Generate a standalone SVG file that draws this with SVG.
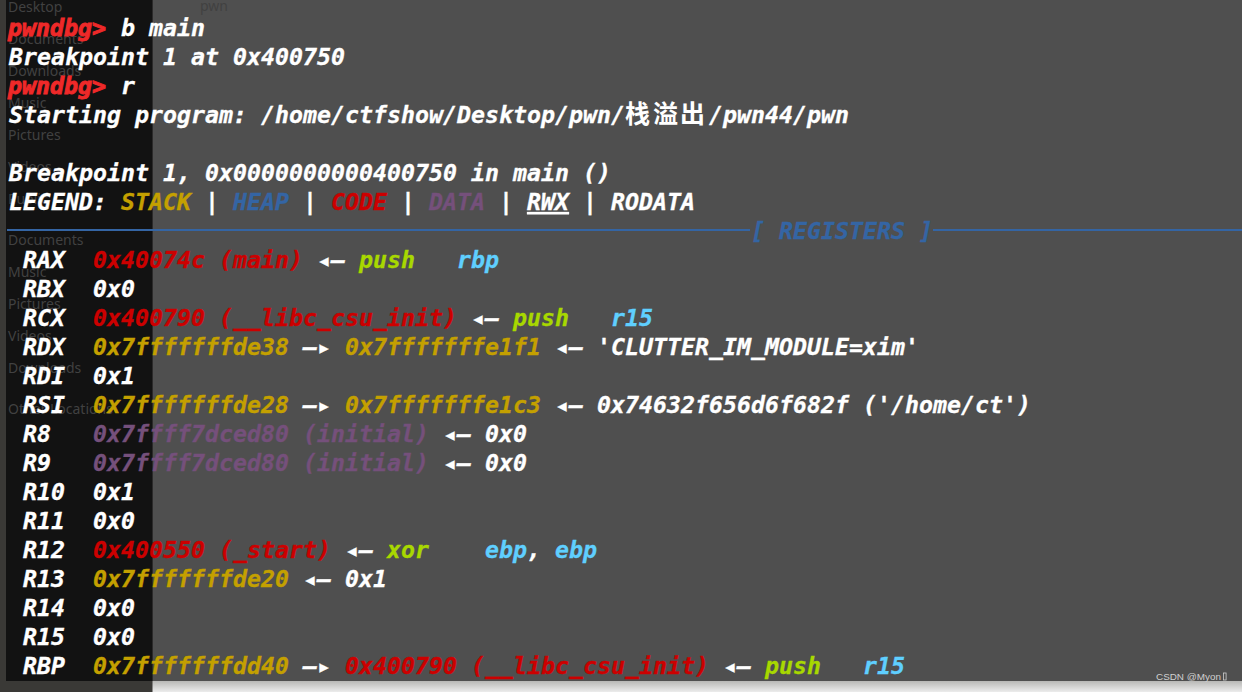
<svg xmlns="http://www.w3.org/2000/svg" width="1242" height="692" viewBox="0 0 1242 692">
<defs><linearGradient id="fade" x1="0" y1="0" x2="0" y2="1"><stop offset="0" stop-color="#b8b8b6"/><stop offset="1" stop-color="#ececec"/></linearGradient></defs>
<style>
text{white-space:pre}
.t{font-family:"DejaVu Sans Mono","Liberation Mono",monospace;font-size:23.25px;font-weight:700;font-style:italic;fill:#fff;stroke:#fff;stroke-width:.3px}
.n{font-family:"Noto Sans","Liberation Sans",sans-serif;font-size:14px;fill:#414141}
.t.p{fill:#ef2929;stroke:#ef2929;stroke-width:.9px}
.t.y{fill:#c4a000;stroke:#c4a000}.t.b{fill:#3465a4;stroke:#3465a4}.t.r{fill:#cc0000;stroke:#cc0000}.t.u{fill:#75507b;stroke:#75507b}.t.g{fill:#a8d800;stroke:#a8d800}.t.c{fill:#5fcfff;stroke:#5fcfff}
.k{font-family:"Noto Sans CJK SC",sans-serif;font-size:25px;font-weight:700;fill:#fff}
.w{font-family:"Liberation Sans",sans-serif;font-size:9.9px;fill:#cfcfcf}
</style>
<rect width="1242" height="692" fill="#4f4f4f"/>
<rect x="0" y="681" width="1242" height="11" fill="url(#fade)"/>
<rect x="0" y="0" width="152.5" height="692" fill="#3a3936"/>
<rect x="6" y="0" width="146.5" height="681" fill="#121212"/>
<g class="n">
<text x="8" y="12">Desktop</text><text x="200" y="11">pwn</text><text x="8" y="44">Documents</text><text x="8" y="76">Downloads</text><text x="8" y="108">Music</text><text x="8" y="140">Pictures</text><text x="8" y="172">Videos</text><text x="8" y="204">Public</text><text x="8" y="245">Documents</text><text x="8" y="277">Music</text><text x="8" y="309">Pictures</text><text x="8" y="341">Videos</text><text x="8" y="373">Downloads</text><text x="8" y="414">Other Locations</text>
</g>
<rect x="7" y="229" width="743" height="2" fill="#3465a4"/>
<rect x="933" y="229" width="309" height="2" fill="#3465a4"/>
<g>
<text class="t p" x="8" y="36">pwndbg&gt;</text><text class="t" x="121" y="36">b main</text>
<text class="t" x="9" y="65">Breakpoint 1 at 0x400750</text>
<text class="t p" x="8" y="94">pwndbg&gt;</text><text class="t" x="121" y="94">r</text>
<text class="t" x="9" y="123">Starting program: /home/ctfshow/Desktop/pwn/</text>
<text class="k" x="625 653 680" y="123">栈溢出</text>
<text class="t" x="709" y="123">/pwn44/pwn</text>
<text class="t" x="9" y="181">Breakpoint 1, 0x0000000000400750 in main ()</text>
<text class="t" x="9" y="210">LEGEND: </text><text class="t y" x="121" y="210">STACK</text><text class="t" x="205" y="210">|</text><text class="t b" x="233" y="210">HEAP</text><text class="t" x="303" y="210">|</text><text class="t r" x="331" y="210">CODE</text><text class="t" x="401" y="210">|</text><text class="t u" x="429" y="210">DATA</text><text class="t" x="499" y="210">|</text><text class="t" x="527" y="210" text-decoration="underline">RWX</text><text class="t" x="583" y="210">|</text><text class="t" x="611" y="210">RODATA</text>
<text class="t b" x="751" y="239">[ REGISTERS ]</text>

<text class="t" x="23" y="268">RAX</text><text class="t r" x="93" y="268">0x40074c (main)</text><text class="t" x="317" y="268">◂—</text><text class="t g" x="359" y="268">push</text><text class="t c" x="457" y="268">rbp</text>
<text class="t" x="23" y="297">RBX</text><text class="t" x="93" y="297">0x0</text>
<text class="t" x="23" y="326">RCX</text><text class="t r" x="93" y="326">0x400790 (__libc_csu_init)</text><text class="t" x="471" y="326">◂—</text><text class="t g" x="513" y="326">push</text><text class="t c" x="611" y="326">r15</text>
<text class="t" x="23" y="355">RDX</text><text class="t y" x="93" y="355">0x7fffffffde38</text><text class="t" x="303" y="355">—▸</text><text class="t y" x="345" y="355">0x7fffffffe1f1</text><text class="t" x="555" y="355">◂—</text><text class="t" x="597" y="355">'CLUTTER_IM_MODULE=xim'</text>
<text class="t" x="23" y="384">RDI</text><text class="t" x="93" y="384">0x1</text>
<text class="t" x="23" y="413">RSI</text><text class="t y" x="93" y="413">0x7fffffffde28</text><text class="t" x="303" y="413">—▸</text><text class="t y" x="345" y="413">0x7fffffffe1c3</text><text class="t" x="555" y="413">◂—</text><text class="t" x="597" y="413">0x74632f656d6f682f ('/home/ct')</text>
<text class="t" x="23" y="442">R8</text><text class="t u" x="93" y="442">0x7ffff7dced80 (initial)</text><text class="t" x="443" y="442">◂—</text><text class="t" x="485" y="442">0x0</text>
<text class="t" x="23" y="471">R9</text><text class="t u" x="93" y="471">0x7ffff7dced80 (initial)</text><text class="t" x="443" y="471">◂—</text><text class="t" x="485" y="471">0x0</text>
<text class="t" x="23" y="500">R10</text><text class="t" x="93" y="500">0x1</text>
<text class="t" x="23" y="529">R11</text><text class="t" x="93" y="529">0x0</text>
<text class="t" x="23" y="558">R12</text><text class="t r" x="93" y="558">0x400550 (_start)</text><text class="t" x="345" y="558">◂—</text><text class="t g" x="387" y="558">xor</text><text class="t c" x="485" y="558">ebp</text><text class="t" x="527" y="558">,</text><text class="t c" x="555" y="558">ebp</text>
<text class="t" x="23" y="587">R13</text><text class="t y" x="93" y="587">0x7fffffffde20</text><text class="t" x="303" y="587">◂—</text><text class="t" x="345" y="587">0x1</text>
<text class="t" x="23" y="616">R14</text><text class="t" x="93" y="616">0x0</text>
<text class="t" x="23" y="645">R15</text><text class="t" x="93" y="645">0x0</text>
<text class="t" x="23" y="674">RBP</text><text class="t y" x="93" y="674">0x7fffffffdd40</text><text class="t" x="303" y="674">—▸</text><text class="t r" x="345" y="674">0x400790 (__libc_csu_init)</text><text class="t" x="723" y="674">◂—</text><text class="t g" x="765" y="674">push</text><text class="t c" x="863" y="674">r15</text>
</g>
<text class="w" x="1156" y="680">CSDN @Myon</text>
<rect x="1223.5" y="673" width="2.6" height="7" fill="none" stroke="#cfcfcf" stroke-width="0.8"/>
</svg>
